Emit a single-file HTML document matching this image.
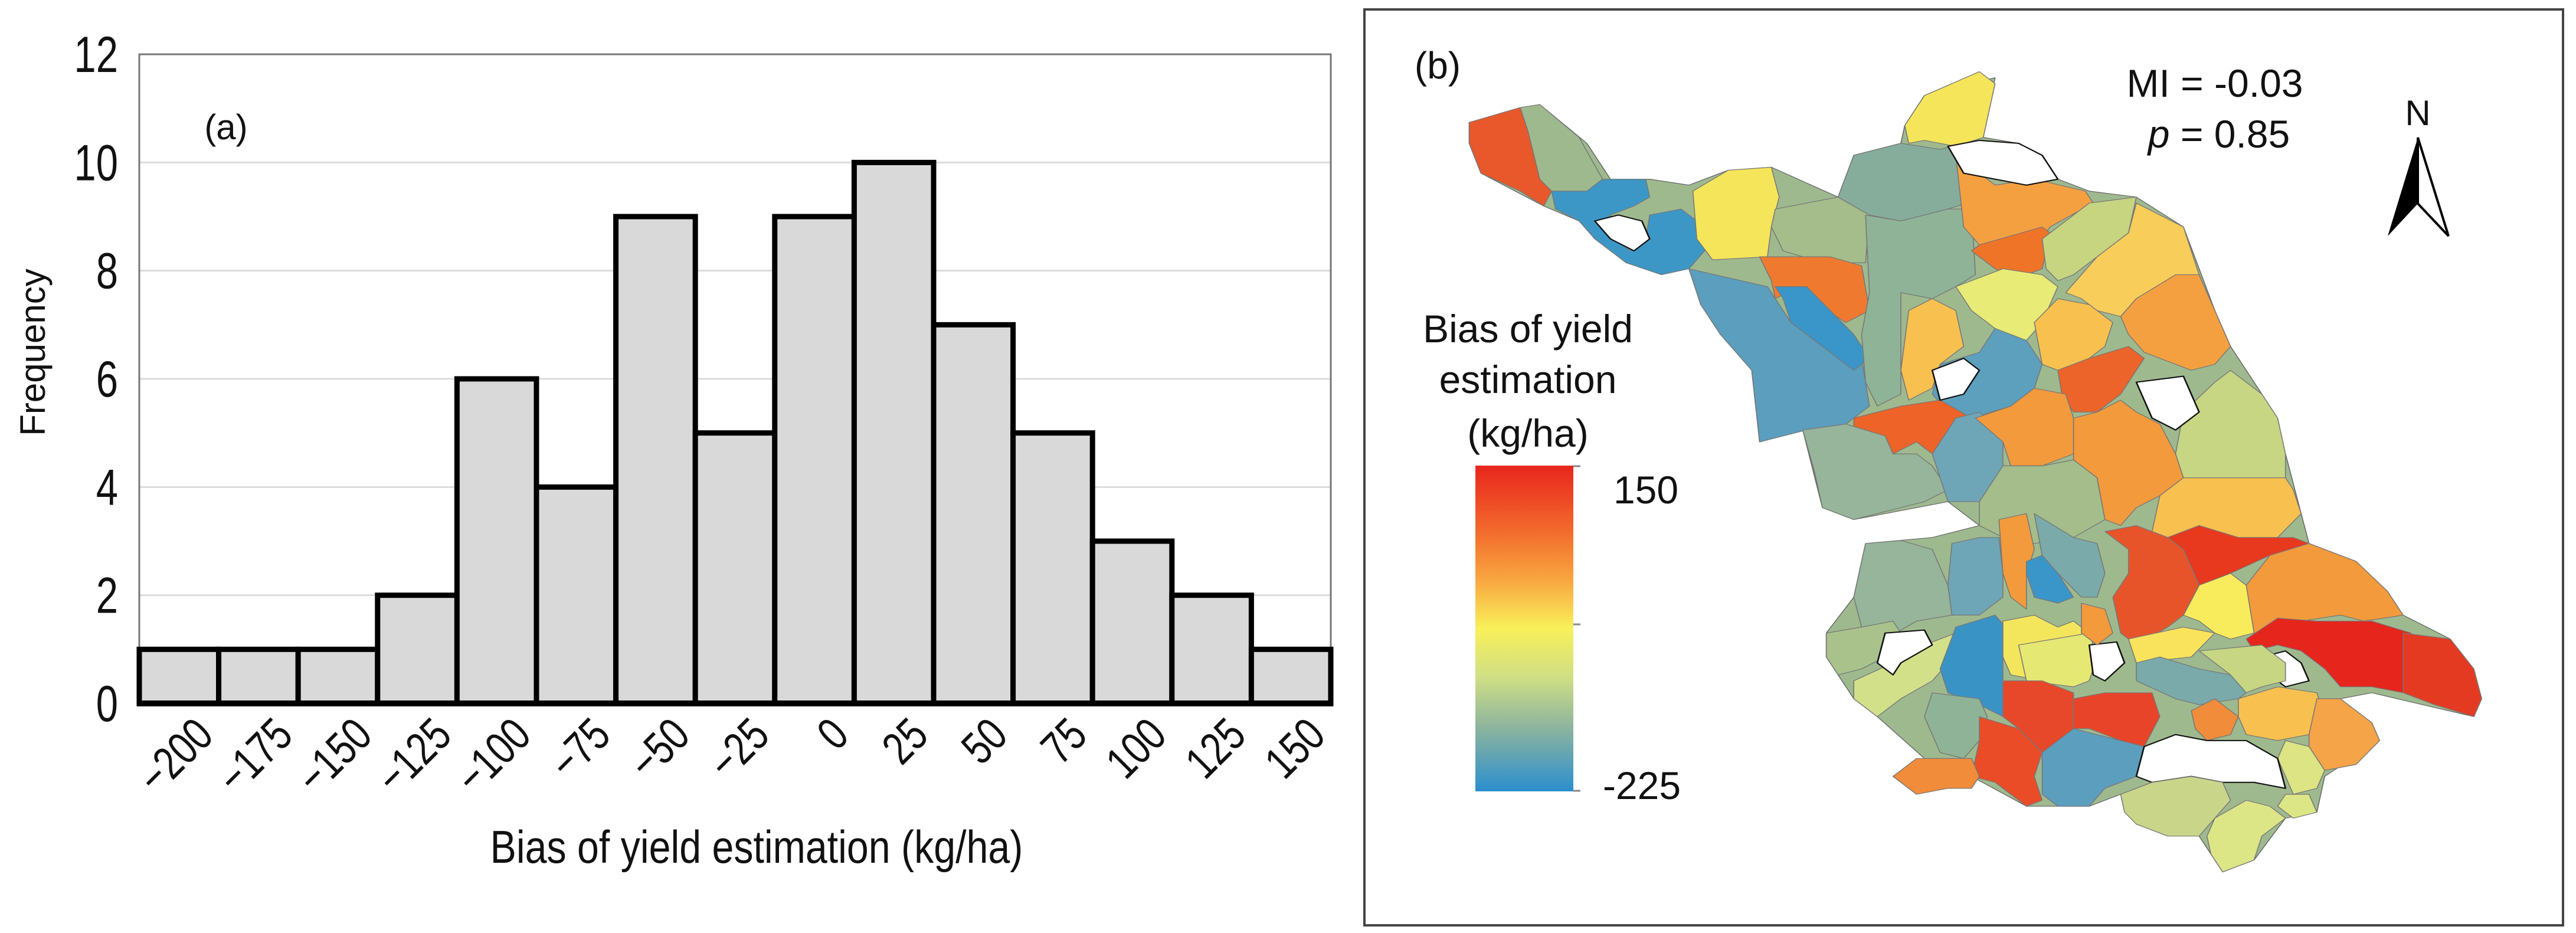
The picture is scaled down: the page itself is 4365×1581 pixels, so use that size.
<!DOCTYPE html>
<html><head><meta charset="utf-8">
<style>
html,body{margin:0;padding:0;background:#fff;}
svg{display:block;}
text{font-family:"Liberation Sans Narrow","Liberation Sans",sans-serif;fill:#111;}
</style></head>
<body>
<svg id="root" width="4365" height="1581" viewBox="0 0 4365 1581" xmlns="http://www.w3.org/2000/svg">
  <rect x="0" y="0" width="4365" height="1581" fill="#fff"/>
  <g id="hist"></g>

  <g id="mappanel">
    <rect x="2312" y="16" width="2031" height="1552" fill="#fff" stroke="#444" stroke-width="4"/>
    <g transform="translate(2290,0) scale(1.33,1.012)" stroke="#777" stroke-width="1.2" stroke-linejoin="round">
      <polygon fill="#9fb98f" stroke="#666" points="150,205 240,175 300,240 330,300 380,300 430,310 480,285 535,280 620,330 640,260 700,240 705,210 730,160 820,130 805,230 850,240 900,300 940,320 1000,330 1060,380 1100,520 1120,580 1160,660 1190,760 1210,860 1220,910 1280,940 1340,1030 1400,1070 1440,1170 1430,1200 1300,1160 1260,1170 1310,1240 1240,1300 1230,1360 1190,1370 1150,1440 1110,1460 1080,1400 1000,1380 980,1330 940,1350 860,1350 790,1300 720,1330 690,1300 730,1270 670,1200 640,1170 605,1100 605,1060 640,1000 655,910 740,900 800,880 760,840 640,870 600,850 575,720 520,740 510,620 445,510 430,450 350,440 290,370 245,345 165,290 150,240"/>
      <polygon fill="#e8582a" points="150,205 215,180 225,220 240,300 255,320 245,345 215,320 165,290 150,240"/>
      <polygon fill="#9fb98f" points="215,180 240,175 290,230 320,300 300,320 255,320 240,300 225,220"/>
      <polygon fill="#3d97c6" points="255,320 300,320 320,300 375,300 380,330 360,345 330,360 320,380 355,420 375,400 380,360 420,350 440,370 450,420 430,450 395,460 350,440 310,400 290,370 260,350"/>
      <polygon fill="#f5e55a" points="435,320 480,285 535,280 545,330 535,380 530,430 460,435 440,400"/>
      <polygon fill="#a4bd8a" points="540,350 620,330 660,360 655,440 600,440 550,420 535,380"/>
      <polygon fill="#86ad9c" points="620,330 640,260 700,240 750,250 780,240 785,340 760,350 700,370 660,360"/>
      <polygon fill="#f5e55a" points="705,210 730,160 800,120 820,140 805,230 770,245 730,235 710,240"/>
      <polygon fill="#5c9ebd" points="430,450 530,480 560,540 600,580 650,600 660,680 630,710 580,720 520,740 515,680 510,620 470,560 445,510"/>
      <polygon fill="#ef7a2f" points="520,430 610,430 650,445 660,520 630,540 600,515 570,480 540,500 535,470"/>
      <polygon fill="#3a96c8" points="540,480 580,480 610,520 640,560 660,600 640,620 600,580 560,540 550,500"/>
      <polygon fill="#8fb397" points="655,360 700,370 760,350 790,350 795,460 770,480 740,500 700,490 700,600 700,660 670,680 655,640 650,560 660,490"/>
      <polygon fill="#f5a040" points="770,260 820,310 870,300 935,320 945,340 890,380 880,400 800,410 780,380"/>
      <polygon fill="#ef7428" points="800,410 880,380 890,390 880,450 850,465 820,450 790,420"/>
      <polygon fill="#c7d480" points="880,400 940,340 1000,330 990,390 950,430 920,460 900,470 885,450"/>
      <polygon fill="#f9cd5a" points="1000,340 1030,360 1060,380 1080,460 1040,470 1000,500 980,530 950,520 930,500 910,490 950,430 990,390"/>
      <polygon fill="#e8eb76" points="770,480 830,450 880,460 900,480 880,540 860,570 830,560 790,520"/>
      <polygon fill="#f5a040" points="1000,500 1050,460 1080,460 1100,520 1120,580 1100,610 1070,620 1030,600 1010,590 990,560 980,530"/>
      <polygon fill="#f8c04e" points="710,520 740,500 770,520 780,580 750,610 740,650 710,670 700,620"/>
      <polygon fill="#5ca0bd" points="750,610 800,590 820,550 860,570 880,610 870,650 840,680 790,700 760,690 740,660"/>
      <polygon fill="#f8c04e" points="870,540 900,500 940,510 970,540 960,580 940,600 900,620 880,610"/>
      <polygon fill="#ec6429" points="900,620 940,600 990,580 1010,600 980,660 950,690 920,690 905,660"/>
      <polygon fill="#ed6328" points="640,700 700,680 750,670 790,700 770,740 740,760 720,740 690,760 680,730 640,730"/>
      <polygon fill="#96b59a" points="575,720 630,710 680,730 690,760 720,760 740,780 760,820 730,840 700,850 640,870 600,850 590,790"/>
      <polygon fill="#6ea6b7" points="770,700 800,690 830,720 830,840 760,840 740,760"/>
      <polygon fill="#f39a3c" points="795,700 840,680 870,650 910,660 920,700 920,760 880,780 840,780 830,740"/>
      <polygon fill="#a4bd8a" points="830,780 880,780 920,770 950,800 960,870 920,900 870,910 830,900 800,880 800,840"/>
      <polygon fill="#f39a3c" points="920,700 950,690 980,670 1000,690 1030,710 1050,760 1060,800 1030,830 1000,850 980,880 960,870 950,800 920,770"/>
      <polygon fill="#c6d683" points="1060,690 1100,640 1120,620 1160,660 1180,700 1190,760 1190,800 1100,820 1060,800 1050,760"/>
      <polygon fill="#f8c04e" points="1030,830 1060,800 1190,800 1200,820 1210,860 1180,900 1130,900 1080,880 1040,900 1020,890"/>
      <polygon fill="#e8381e" points="1040,900 1080,880 1130,900 1200,900 1220,910 1170,930 1120,960 1080,980 1060,920"/>
      <polygon fill="#f39a3c" points="1170,930 1220,910 1280,940 1320,990 1340,1030 1290,1040 1260,1030 1210,1040 1150,1060 1130,1020 1140,980"/>
      <polygon fill="#f9ec5c" points="1080,980 1120,960 1140,980 1150,1060 1120,1070 1100,1060 1080,1040 1060,1030"/>
      <polygon fill="#e8542a" points="1000,880 1040,900 1060,920 1080,980 1060,1030 1040,1050 1000,1080 980,1060 970,1000 990,960 990,920 960,890"/>
      <polygon fill="#e6251c" points="1140,1070 1180,1035 1230,1040 1300,1040 1350,1060 1340,1160 1300,1150 1260,1150 1240,1120 1210,1090 1180,1080 1150,1090"/>
      <polygon fill="#e53a22" points="1340,1060 1400,1070 1430,1120 1440,1170 1430,1200 1380,1180 1340,1160"/>
      <polygon fill="#fff" stroke="#111" stroke-width="2" points="1160,1100 1190,1090 1210,1110 1220,1140 1190,1150 1170,1130"/>
      <polygon fill="#f39a3c" points="825,870 860,860 870,920 860,960 860,1020 840,1000 830,960"/>
      <polygon fill="#7aaaa9" points="870,860 920,900 950,910 960,960 950,1000 930,1000 900,960 880,930"/>
      <polygon fill="#3a96c8" points="860,940 880,930 900,960 920,1000 900,1010 870,1000 860,960"/>
      <polygon fill="#6ea6b7" points="765,910 800,900 825,900 830,960 830,1000 800,1030 765,1030 760,980"/>
      <polygon fill="#96b59a" points="655,910 700,905 740,920 760,980 765,1030 720,1040 680,1070 650,1050 640,1000"/>
      <polygon fill="#a9c28c" points="605,1060 650,1050 690,1040 700,1060 680,1100 650,1120 620,1130 605,1100"/>
      <polygon fill="#d3e08a" points="640,1140 690,1110 730,1080 770,1060 760,1110 740,1140 700,1170 670,1200 640,1170"/>
      <polygon fill="#3a93c5" points="770,1050 820,1030 840,1060 830,1100 830,1200 800,1180 760,1160 750,1120"/>
      <polygon fill="#f4e65c" points="830,1040 870,1030 900,1050 920,1040 940,1060 935,1100 920,1140 880,1140 840,1130 830,1100"/>
      <polygon fill="#e6e874" points="850,1080 940,1060 950,1100 940,1140 920,1150 860,1140"/>
      <polygon fill="#fff" stroke="#111" stroke-width="2" points="940,1080 975,1075 985,1110 960,1140 945,1130"/>
      <polygon fill="#fff" stroke="#111" stroke-width="2" points="680,1060 730,1055 740,1080 700,1110 690,1130 670,1110"/>
      <polygon fill="#f9e35c" points="990,1070 1060,1050 1100,1060 1070,1100 1000,1110"/>
      <polygon fill="#f39a3c" points="930,1010 960,1020 970,1060 950,1080 930,1060"/>
      <polygon fill="#8fb397" points="740,1160 800,1170 810,1200 800,1240 780,1270 750,1260 730,1200"/>
      <polygon fill="#e8482a" points="830,1140 880,1140 920,1160 920,1220 900,1240 880,1260 850,1220 830,1200"/>
      <polygon fill="#e8442a" points="920,1170 960,1160 1020,1160 1030,1200 1010,1250 980,1240 940,1220 920,1220"/>
      <polygon fill="#ea4c28" points="800,1200 850,1220 880,1260 870,1300 880,1340 860,1350 840,1330 820,1310 790,1300 800,1240"/>
      <polygon fill="#5c9ebd" points="880,1260 920,1220 980,1240 1010,1250 1000,1300 960,1320 940,1350 900,1350 880,1330"/>
      <polygon fill="#f08c3a" points="690,1300 720,1270 790,1270 800,1300 790,1320 760,1320 720,1330"/>
      <polygon fill="#7aaaa9" points="1000,1110 1030,1100 1080,1120 1120,1130 1140,1160 1130,1170 1080,1180 1050,1170 1000,1140"/>
      <polygon fill="#c6d683" points="1080,1090 1160,1080 1190,1110 1190,1140 1160,1150 1140,1160 1120,1130"/>
      <polygon fill="#f08c3a" points="1070,1190 1100,1170 1130,1200 1120,1230 1090,1240 1075,1220"/>
      <polygon fill="#f8c04e" points="1130,1170 1180,1150 1230,1160 1240,1200 1220,1230 1180,1240 1140,1230 1130,1200"/>
      <polygon fill="#f5a448" points="1230,1170 1260,1170 1300,1210 1310,1240 1280,1280 1240,1290 1220,1250 1220,1230"/>
      <polygon fill="#dce483" points="1190,1240 1220,1250 1240,1290 1230,1320 1200,1330 1190,1300 1180,1270"/>
      <polygon fill="#fff" stroke="#111" stroke-width="2" points="1010,1250 1050,1230 1090,1240 1140,1240 1180,1270 1190,1320 1150,1310 1110,1310 1070,1300 1020,1310 1000,1300"/>
      <polygon fill="#c9d68a" points="980,1330 1020,1310 1070,1300 1110,1310 1120,1340 1100,1370 1080,1400 1040,1400 1000,1380 985,1360"/>
      <polygon fill="#dde686" points="1100,1370 1140,1340 1170,1350 1190,1370 1160,1400 1150,1440 1110,1460 1095,1430 1090,1400"/>
      <polygon fill="#dde686" points="1190,1330 1220,1330 1230,1360 1200,1370 1180,1350"/>
      <polygon fill="#fff" stroke="#111" stroke-width="2" points="760,245 800,235 850,240 880,260 900,300 860,310 820,300 780,290"/>
      <polygon fill="#fff" stroke="#111" stroke-width="2" points="310,370 340,360 370,370 380,400 360,420 330,400"/>
      <polygon fill="#fff" stroke="#111" stroke-width="2" points="740,620 780,600 800,620 780,660 750,670"/>
      <polygon fill="#fff" stroke="#111" stroke-width="2" points="1000,640 1060,630 1080,690 1050,720 1020,700"/>
    </g>
    <defs>
      <linearGradient id="cb" x1="0" y1="0" x2="0" y2="1">
        <stop offset="0" stop-color="#e8261d"/>
        <stop offset="0.2" stop-color="#f26a2c"/>
        <stop offset="0.35" stop-color="#f8a640"/>
        <stop offset="0.5" stop-color="#f9f05a"/>
        <stop offset="0.65" stop-color="#cfdf84"/>
        <stop offset="0.8" stop-color="#8fb59d"/>
        <stop offset="1" stop-color="#2b8fce"/>
      </linearGradient>
    </defs>
    <rect x="2500" y="789" width="166" height="552" fill="url(#cb)"/>
    <g stroke="#888" stroke-width="3">
      <line x1="2666" y1="790" x2="2678" y2="790"/><line x1="2666" y1="1058" x2="2678" y2="1058"/><line x1="2666" y1="1340" x2="2678" y2="1340"/>
    </g>
    <text x="2789" y="853" font-size="66" text-anchor="middle">150</text>
    <text x="2782" y="1354" font-size="66" text-anchor="middle">-225</text>
    <g font-size="66" text-anchor="middle">
      <text x="2589" y="580">Bias of yield</text>
      <text x="2589" y="666">estimation</text>
      <text x="2589" y="757">(kg/ha)</text>
    </g>
    <text x="2436" y="133" font-size="64" text-anchor="middle">(b)</text>
    <text x="3753" y="164" font-size="66" text-anchor="middle">MI = -0.03</text>
    <text x="3760" y="250" font-size="66" text-anchor="middle"><tspan font-style="italic">p</tspan> = 0.85</text>
    <g>
      <text x="4097" y="212" font-size="60" text-anchor="middle">N</text>
      <polygon points="4097,233 4046,400 4097,345" fill="#000"/>
      <polygon points="4097,233 4149,400 4097,345" fill="#fff" stroke="#000" stroke-width="4"/>
    </g>
  </g>
</svg>
<script>
const binLabels = ["−200","−175","−150","−125","−100","−75","−50","−25","0","25","50","75","100","125","150"];
const frequencies = [1,1,1,2,6,4,9,5,9,10,7,5,3,2,1];
const yTicks = [0,2,4,6,8,10,12];

const NS = "http://www.w3.org/2000/svg";
const g = document.getElementById('hist');
const X0 = 236, X1 = 2255, Y0 = 1192, Y1 = 92, YMAX = 12;
const bw = (X1 - X0) / frequencies.length;
function xScale(i){ return X0 + i * bw; }
function yScale(v){ return Y0 - v * (Y0 - Y1) / YMAX; }
function mk(tag, attrs){ const e = document.createElementNS(NS, tag); for (const k in attrs) e.setAttribute(k, attrs[k]); return e; }

yTicks.forEach(function(t){
  if (t > 0 && t < YMAX) {
    const ln = mk('line', {x1:X0, x2:X1, y1:yScale(t), y2:yScale(t), stroke:'#dcdcdc', 'stroke-width':3});
    
    
    g.appendChild(ln);
  }
  const ty = yScale(t) + 30;
  const tx = mk('text', {x:0, y:0, 'font-size':86, 'text-anchor':'end', transform:'translate(200,'+ty+') scale(0.78,1)'});
  tx.textContent = t;
  
  
  g.appendChild(tx);
});
const frame = mk('polyline', {points: X0+','+Y0+' '+X0+','+Y1+' '+X1+','+Y1+' '+X1+','+Y0, fill:'none', stroke:'#777', 'stroke-width':3});


g.appendChild(frame);

frequencies.forEach(function(v, i){
  const r = mk('rect', {x:xScale(i), y:yScale(v), width:bw, height:Y0 - yScale(v), fill:'#d9d9d9', stroke:'#000', 'stroke-width':9});
  
  
  g.appendChild(r);
  const cx = xScale(i) + bw/2 + 62, cy = 1250;
  const t = mk('text', {x:0, y:0, 'font-size':78, 'text-anchor':'end', transform:'translate('+cx+','+cy+') rotate(-45) scale(0.8,1)'});
  t.textContent = binLabels[i];
  
  
  g.appendChild(t);
});
const axis = mk('line', {x1:X0-4, x2:X1+4, y1:Y0, y2:Y0, stroke:'#000', 'stroke-width':10});


g.appendChild(axis);

const pa = mk('text', {x:383, y:236, 'font-size':60, 'text-anchor':'middle'});
pa.textContent = '(a)';


g.appendChild(pa);

const yt = mk('text', {x:0, y:0, 'font-size':60, 'text-anchor':'middle', transform:'translate(76,597) rotate(-90)'});
yt.textContent = 'Frequency';


g.appendChild(yt);

const xt = mk('text', {x:0, y:0, 'font-size':78, 'text-anchor':'middle', transform:'translate(1282,1462) scale(0.85,1)'});
xt.textContent = 'Bias of yield estimation (kg/ha)';


g.appendChild(xt);
</script>
</body></html>
